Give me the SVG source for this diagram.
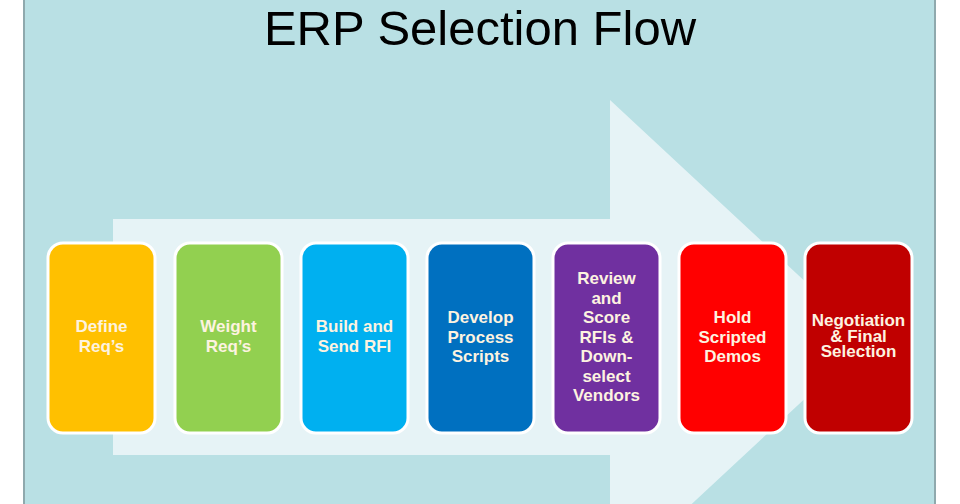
<svg xmlns="http://www.w3.org/2000/svg" width="960" height="504" viewBox="0 0 960 504">
<style>
.n{stroke:#fff;stroke-width:3}
.t{font-family:"Liberation Sans",Arial,sans-serif;font-weight:bold;fill:#fdf3e0;text-anchor:middle;font-size:17px}
</style>
<rect width="960" height="504" fill="#fff"/>
<rect x="24" y="-2" width="911" height="510" fill="#b9e0e4" stroke="#8fa9ad" stroke-width="2"/>
<path d="M113 219H610V100L868 340L610 580V455H113Z" fill="#e6f3f6"/>
<text x="480" y="45" font-family="Liberation Sans,Arial,sans-serif" font-size="49" text-anchor="middle" fill="#000">ERP Selection Flow</text>
<g id="n1"><rect class="n" x="48" y="243" width="107" height="190" rx="15" fill="#ffc000"/><text class="t" x="101.5" y="332">Define<tspan x="101.5" dy="20">Req’s</tspan></text></g>
<g id="n2"><rect class="n" x="175" y="243" width="107" height="190" rx="15" fill="#92d050"/><text class="t" x="228.5" y="332">Weight<tspan x="228.5" dy="20">Req’s</tspan></text></g>
<g id="n3"><rect class="n" x="301" y="243" width="107" height="190" rx="15" fill="#00b0f0"/><text class="t" x="354.5" y="332">Build and<tspan x="354.5" dy="20">Send RFI</tspan></text></g>
<g id="n4"><rect class="n" x="427" y="243" width="107" height="190" rx="15" fill="#0070c0"/><text class="t" x="480.5" y="323">Develop<tspan x="480.5" dy="19.5">Process</tspan><tspan x="480.5" dy="19.5">Scripts</tspan></text></g>
<g id="n5"><rect class="n" x="553" y="243" width="107" height="190" rx="15" fill="#7030a0"/><text class="t" x="606.5" y="284">Review<tspan x="606.5" dy="19.5">and</tspan><tspan x="606.5" dy="19.5">Score</tspan><tspan x="606.5" dy="19.5">RFIs &amp;</tspan><tspan x="606.5" dy="19.5">Down-</tspan><tspan x="606.5" dy="19.5">select</tspan><tspan x="606.5" dy="19.5">Vendors</tspan></text></g>
<g id="n6"><rect class="n" x="679" y="243" width="107" height="190" rx="15" fill="#ff0000"/><text class="t" x="732.5" y="323">Hold<tspan x="732.5" dy="19.5">Scripted</tspan><tspan x="732.5" dy="19.5">Demos</tspan></text></g>
<g id="n7"><rect class="n" x="805" y="243" width="107" height="190" rx="15" fill="#c00000"/><text class="t" x="858.5" y="326" font-size="12.5">Negotiation<tspan x="858.5" dy="15.5">&amp; Final</tspan><tspan x="858.5" dy="15.5">Selection</tspan></text></g>
<g id="connectors"/>
</svg>
